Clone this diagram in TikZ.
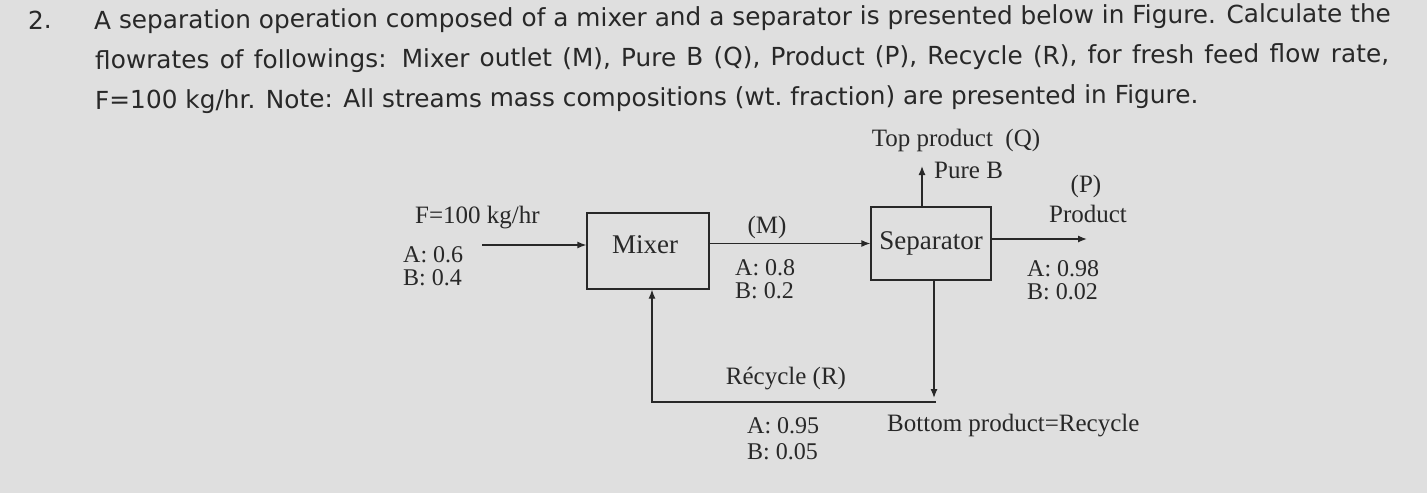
\documentclass[tikz,border=0pt]{standalone}
\usepackage{fontspec}
\setmainfont{Liberation Serif}
\newfontfamily\titlefont{DejaVu Sans}
\usetikzlibrary{arrows.meta}
\definecolor{paper}{RGB}{223,223,223}
\definecolor{ink}{RGB}{40,40,40}
\begin{document}
\begin{tikzpicture}[x=1pt,y=-1pt,
  every node/.style={inner sep=0pt, text=ink},
  lbl/.style={font=\fontsize{25}{30}\selectfont},
  comp/.style={font=\fontsize{24}{23}\selectfont, align=left, anchor=north west},
  unitbox/.style={draw=ink, line width=1.3pt, font=\fontsize{27}{32}\selectfont},
  flow/.style={draw=ink, line width=1.3pt, -{Latex[length=9pt,width=7pt]}},
  ttl/.style={font=\titlefont\fontsize{24.8}{30}\selectfont, anchor=base west, rotate=0.3}]
\fill[paper] (0,0) rectangle (1427,493);
\useasboundingbox (0,0) rectangle (1427,493);
% title text
\node[ttl] (num) at (28,29) {2.};
\node[ttl] (l1) at (94,29) {A separation operation composed of a mixer and a separator is presented below in Figure. Calculate the};
\node[ttl] (l2) at (95,69) {\makebox[1294pt][s]{flowrates of followings: Mixer outlet (M), Pure B (Q), Product (P), Recycle (R), for fresh feed flow rate,}};
\node[ttl] (l3) at (95,109) {F=100 kg/hr. Note: All streams mass compositions (wt.\ fraction) are presented in Figure.};
% units
\node[unitbox, minimum width=122pt, minimum height=76pt] (mixer) at (648,251) {};
\node (mixlbl) at (645,245) {\fontsize{27}{32}\selectfont Mixer};
\node[unitbox, minimum width=120pt, minimum height=73pt] (sep) at (931,243.5) {Separator};
% coordinates
\coordinate (fin) at (482,245);
\coordinate (topend) at (922,166);
\coordinate (pend) at (1087,239);
\coordinate (rdown) at (934,398);
\coordinate (rright) at (936,402);
\coordinate (rcorner) at (652,402);
% flows
\draw[flow] (fin) -- (mixer.west |- fin);
\draw[flow] (mixer.east |- sep.west) -- (sep.west);
\draw[flow] (sep.north -| topend) -- (topend);
\draw[flow] (sep.east |- pend) -- (pend);
\draw[flow] (sep.south -| rdown) -- (rdown);
\draw[flow] (rright) -- (rcorner) -- (rcorner |- mixer.south);
% labels
\node[lbl, anchor=base west] (f) at (415,223) {F=100 kg/hr};
\node[comp] (fab) at (403,246) {A: 0.6\\B: 0.4};
\node[lbl] (m) at (767,227) {(M)};
\node[comp] (mab) at (735,259) {A: 0.8\\B: 0.2};
\node[lbl] (q) at (956,140) {Top product\ \ (Q)};
\node[lbl, anchor=base west] (qb) at (934,178) {Pure B};
\node[lbl] (p) at (1086,186) {(P)};
\node[lbl] (pp) at (1088,214) {Product};
\node[comp] (pab) at (1027,260) {A: 0.98\\B: 0.02};
\node[lbl] (r) at (786,378) {R\'ecycle (R)};
\node[comp, font=\fontsize{24}{26}\selectfont] (rab) at (747,417) {A: 0.95\\B: 0.05};
\node[lbl, anchor=base west] (bp) at (887,431) {Bottom product=Recycle};
\end{tikzpicture}
\end{document}
